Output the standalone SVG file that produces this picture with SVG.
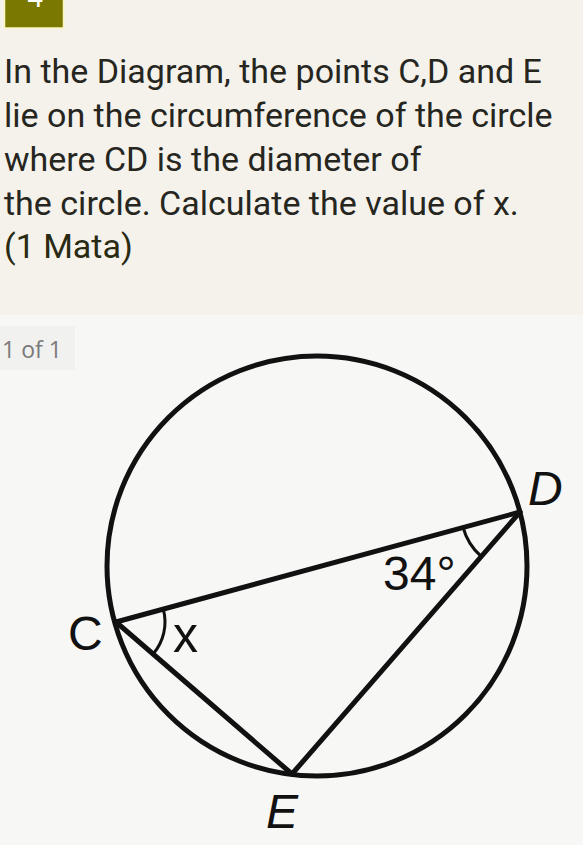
<svg xmlns="http://www.w3.org/2000/svg" width="583" height="845" viewBox="0 0 583 845">
<style>
.q{font-family:Roboto,"Liberation Sans",sans-serif;font-size:34px;fill:#26261f}
.lbl{font-family:"Liberation Sans",Arial,sans-serif;font-size:48px;fill:#111}
.edge{stroke:#111;stroke-width:5;fill:none;stroke-linecap:round}
.ang{stroke:#111;stroke-width:3;fill:none}
</style>
<rect x="0" y="0" width="583" height="315" fill="#f4f2eb"/>
<rect x="0" y="315" width="583" height="530" fill="#f7f7f5"/>
<rect x="0" y="326" width="75" height="44" fill="#f1f1f0"/>
<g id="badge">
<rect x="4.5" y="-2" width="59" height="30" fill="#7a7800" stroke="#fbf6c0" stroke-width="1.5"/>
<text x="35" y="7" text-anchor="middle" font-family="Roboto,'Liberation Sans',sans-serif" font-size="28" fill="#ffffff">4</text>
</g>
<g id="question">
<text class="q" x="4" y="83">In the Diagram, the points C,D and E</text>
<text class="q" x="4" y="127">lie on the circumference of the circle</text>
<text class="q" x="4" y="171">where CD is the diameter of</text>
<text class="q" x="4" y="215">the circle. Calculate the value of x.</text>
<text class="q" x="4" y="258" style="fill:#2a2a12">(1 Mata)</text>
</g>
<text x="2" y="358" font-family="'Open Sans','Noto Sans',sans-serif" font-size="23" fill="#7a7a7a">1 of 1</text>
<g id="circle">
<circle cx="317" cy="566" r="210" class="edge"/>
</g>
<g id="connectors">
<line x1="116" y1="622" x2="520" y2="512" class="edge"/>
<line x1="116" y1="622" x2="292" y2="774" class="edge"/>
<line x1="520" y1="512" x2="292" y2="774" class="edge"/>
<path d="M163.3 609.2 A49 49 0 0 1 153.1 654" class="ang"/>
<path d="M463.1 527.5 A59 59 0 0 0 481.3 556.5" class="ang"/>
</g>
<g id="C"><text class="lbl" x="68" y="650">C</text></g>
<g id="D"><text class="lbl" x="528" y="505" font-style="italic">D</text></g>
<g id="E"><text class="lbl" x="266" y="828" font-style="italic">E</text></g>
<g id="angle34"><text class="lbl" x="383" y="590">34°</text></g>
<g id="angleX"><text class="lbl" x="173" y="652" style="font-size:50px">x</text></g>
</svg>
